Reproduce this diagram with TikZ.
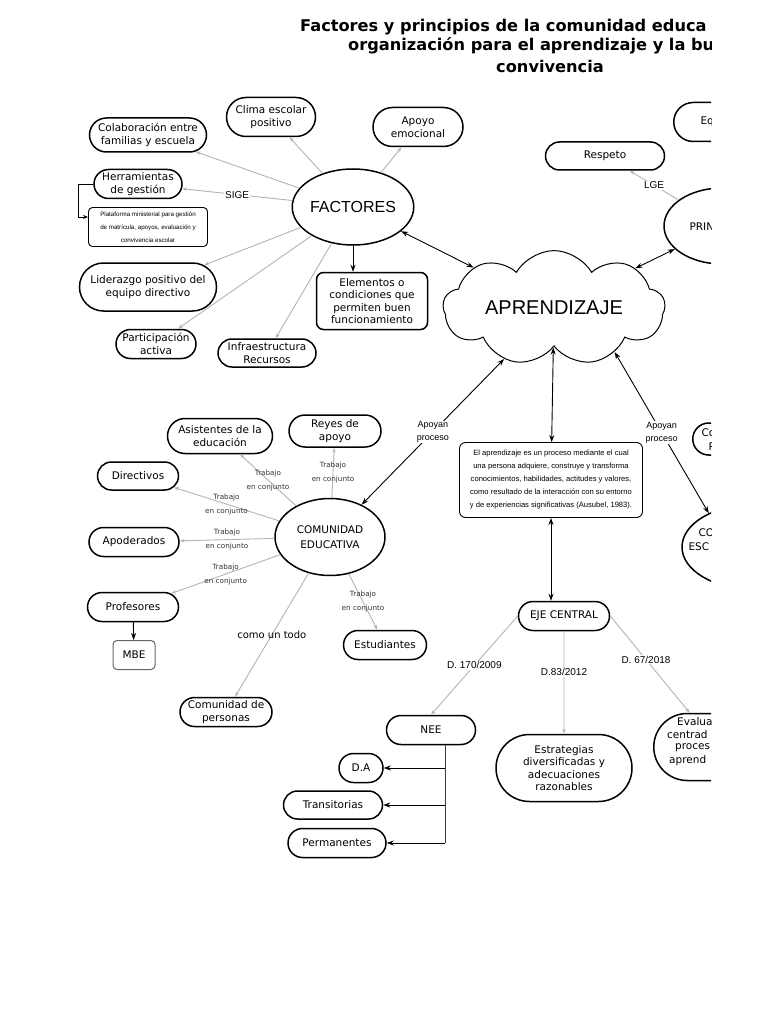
\documentclass[tikz,border=0pt]{standalone}
\usepackage{fontspec}
\setmainfont{DejaVu Sans}
\newfontfamily\arialf{Liberation Sans}
\usetikzlibrary{shapes.geometric, shapes.misc, shapes.symbols, arrows.meta}

\definecolor{linegray}{RGB}{180,180,180}
\newcommand{\mapfont}{\fontsize{10.5}{12.5}\selectfont}
\newcommand{\decfont}{\arialf\fontsize{10}{12}\selectfont}
\newcommand{\trabfont}{\fontsize{7.2}{14}\selectfont}
\newcommand{\apoyfont}{\arialf\fontsize{9}{12.5}\selectfont}
\newcommand{\textofont}{\arialf\fontsize{7.6}{13}\selectfont}
\newcommand{\platfont}{\arialf\fontsize{6.2}{13}\selectfont}
\newcommand{\mapttl}{\bfseries\fontsize{16.2}{19}\selectfont}

\begin{document}
\begin{tikzpicture}[x=1pt, y=-1pt,
  pill/.style = {draw, rounded rectangle, line width=1.5pt, font=\mapfont, align=center, inner sep=1pt},
  oval/.style = {draw, ellipse, line width=1.5pt, font=\mapfont, align=center, inner sep=0pt},
  card/.style = {draw, rectangle, rounded corners=7pt, line width=1.5pt, font=\mapfont, align=center},
  gline/.style = {draw=linegray, line width=0.9pt, -{Stealth[length=5pt,width=3.5pt]}},
  bigarrow/.style = {line width=0.9pt, -{Stealth[length=7pt,width=5pt]}},
  twoway/.style = {line width=0.9pt, {Stealth[length=7pt,width=5pt]}-{Stealth[length=7pt,width=5pt]}},
  trab/.style = {font=\trabfont, align=center, text=black!80},
  dec/.style = {font=\decfont, fill=white, inner sep=1pt},
  apoy/.style = {font=\apoyfont, align=center, fill=white, inner sep=1pt}]

\useasboundingbox (0,0) rectangle (768,1024);
\fill[white] (0,0) rectangle (768,1024);

\begin{scope}
\clip (0,0) rectangle (711,1024);

% titulo
\node[anchor=west, font=\mapttl, inner sep=0pt] (t1) at (300,27) {Factores y principios de la comunidad educa};
\node[anchor=west, font=\mapttl, inner sep=0pt] (t2) at (348,46) {organización para el aprendizaje y la bu};
\node[font=\mapttl] (t3) at (550,66) {convivencia};

% factores
\node[oval, minimum width=110, minimum height=76, font=\arialf\fontsize{16}{18}\selectfont] (factores) at (353,207) {FACTORES};
\node[pill, minimum width=91, minimum height=39] (clima) at (271,117) {Clima escolar\\positivo};
\node[pill, minimum width=92, minimum height=39] (apoyo) at (418,127) {Apoyo\\emocional};
\node[pill, minimum width=119, minimum height=34] (colab) at (148,135) {Colaboración entre\\familias y escuela};
\node[pill, minimum width=90, minimum height=29] (herr) at (138,184) {Herramientas\\de gestión};
\node[draw, rectangle, rounded corners=4pt, line width=0.9pt, font=\platfont, align=center, minimum width=119, minimum height=39, inner sep=1pt] (plat) at (148,227) {Plataforma ministerial para gestión\\de matrícula, apoyos, evaluación y\\convivencia escolar};
\node[pill, minimum width=139, minimum height=48] (lider) at (148,287) {Liderazgo positivo del\\equipo directivo};
\node[pill, minimum width=82, minimum height=29] (partic) at (156,344) {Participación\\activa};
\node[pill, minimum width=100, minimum height=28] (infra) at (267,353) {Infraestructura\\Recursos};
\node[card, minimum width=111, minimum height=57, inner sep=1pt] (elem) at (372,301) {Elementos o\\condiciones que\\permiten buen\\funcionamiento};

% aprendizaje y principios
\node[cloud, draw, line width=1pt, cloud puffs=9, cloud puff arc=120, aspect=2.4, minimum width=222, minimum height=90, inner sep=0pt, font=\arialf\fontsize{20}{22}\selectfont] (aprend) at (554,308) {APRENDIZAJE};
\node[oval, minimum width=116, minimum height=76] (prin) at (722,226) {};
\node[anchor=west, font=\mapfont] (printxt) at (686,227) {PRIN};
\node[pill, minimum width=121, minimum height=28] (respeto) at (605,156) {Respeto};
\node[pill, anchor=west, minimum width=110, minimum height=39] (eq) at (673,122) {};
\node[anchor=west, font=\mapfont] (eqtxt) at (697,122) {Eq};
\node[pill, anchor=west, minimum width=80, minimum height=32] (cop) at (692,439) {};
\node[anchor=west, font=\mapfont] (coptxt) at (698,433) {Co};
\node[anchor=west, font=\mapfont] (coptxtb) at (705,447) {P};
\node[oval, minimum width=140, minimum height=84] (coesc) at (752,547) {};
\node[anchor=west, font=\mapfont] (coesctxt) at (695,533) {CO};
\node[anchor=west, font=\mapfont] (coesctxtb) at (685,547) {ESC};

\node[draw, rectangle, rounded corners=6pt, line width=0.9pt, font=\textofont, align=center, minimum width=183, minimum height=75, inner sep=2pt] (texto) at (551,480) {El aprendizaje es un proceso mediante el cual\\una persona adquiere, construye y transforma\\conocimientos, habilidades, actitudes y valores,\\como resultado de la interacción con su entorno\\y de experiencias significativas (Ausubel, 1983).};

% eje central
\node[pill, minimum width=93, minimum height=29] (eje) at (564,616) {EJE CENTRAL};
\node[pill, minimum width=91, minimum height=29] (nee) at (431,730) {NEE};
\node[pill, minimum width=138, minimum height=67] (estr) at (564,768) {Estrategias\\diversificadas y\\adecuaciones\\razonables};
\node[pill, anchor=west, minimum width=130, minimum height=67] (eval) at (653,747) {};
\foreach \t/\x/\y in {Evalua/677/722, centrad/667/735, proces/675/748, aprend/669/761}
  \node[anchor=west, font=\mapfont, inner sep=0pt] (ev\t) at (\x,\y) {\t};
\node[pill, minimum width=46, minimum height=29] (da) at (361,768) {D.A};
\node[pill, minimum width=101, minimum height=28] (trans) at (333,805) {Transitorias};
\node[pill, minimum width=100, minimum height=29] (perm) at (337,843) {Permanentes};

% comunidad educativa
\node[oval, minimum width=110, minimum height=77, font=\fontsize{10.5}{15}\selectfont] (comun) at (330,537) {COMUNIDAD\\EDUCATIVA};
\node[pill, minimum width=107, minimum height=35] (asist) at (220,436) {Asistentes de la\\educación};
\node[pill, minimum width=94, minimum height=32] (reyes) at (335,431) {Reyes de\\apoyo};
\node[pill, minimum width=83, minimum height=28] (direct) at (138,476) {Directivos};
\node[pill, minimum width=92, minimum height=29] (apod) at (134,542) {Apoderados};
\node[pill, minimum width=93, minimum height=29] (prof) at (133,607) {Profesores};
\node[draw=black!60, rectangle, rounded corners=4pt, line width=1pt, font=\mapfont, minimum width=42, minimum height=29] (mbe) at (134,655) {MBE};
\node[pill, minimum width=85, minimum height=29] (estud) at (385,645) {Estudiantes};
\node[pill, minimum width=94, minimum height=29] (persona) at (226,712) {Comunidad de\\personas};

% conectores factores
\draw[gline] (factores) -- (clima);
\draw[gline] (factores) -- (apoyo);
\draw[gline] (factores) -- (colab);
\draw[gline] (factores) -- node[dec]{SIGE} (herr);
\draw[gline] (factores) -- (lider);
\draw[gline] (factores) -- (partic);
\draw[gline] (factores) -- (infra);
\draw[bigarrow] (factores.south) -- (factores.south |- elem.north);
\draw[line width=0.9pt, -{Stealth[length=5pt,width=4pt]}] (herr.west) -- ++(-15,0) |- ([yshift=10pt]plat.west);

% conectores aprendizaje
\draw[twoway] (factores) -- (aprend);
\draw[twoway] (aprend) -- (prin);
\draw[gline] (prin) -- node[dec]{LGE} (respeto);
\draw[twoway] (aprend) -- node[apoy]{Apoyan\\proceso} (comun);
\draw[twoway] (aprend.-36) -- node[apoy]{Apoyan\\proceso} (coesc.142);
\draw[twoway] (aprend) -- (texto);
\draw[twoway] (texto.south) -- (texto.south |- eje.north);

% conectores eje central
\draw[gline] (eje.west) -- node[dec]{D. 170/2009} (nee.north);
\draw[gline] (eje) -- node[dec, pos=0.4]{D.83/2012} (estr);
\draw[gline] (eje.east) -- node[dec, pos=0.45]{D. 67/2018} (eval);
\coordinate (trunk) at ([xshift=14pt]nee.south);
\draw[line width=0.9pt, black!75] (trunk) -- (trunk |- perm);
\foreach \n in {da, trans, perm}
  \draw[bigarrow] (trunk |- \n) -- (\n.east);

% conectores comunidad
\draw[gline] (comun) -- node[trab]{Trabajo\\en conjunto} (asist);
\draw[gline] (comun) -- node[trab]{Trabajo\\en conjunto} (reyes);
\draw[gline] (comun) -- node[trab]{Trabajo\\en conjunto} (direct);
\draw[gline] (comun) -- node[trab]{Trabajo\\en conjunto} (apod);
\draw[gline] (comun) -- node[trab]{Trabajo\\en conjunto} (prof);
\draw[gline] (comun) -- node[trab]{Trabajo\\en conjunto} (estud);
\draw[gline] (comun) -- node[font=\fontsize{10}{12}\selectfont]{como un todo} (persona);
\draw[bigarrow] (prof) -- (mbe);
\end{scope}
\end{tikzpicture}
\end{document}
